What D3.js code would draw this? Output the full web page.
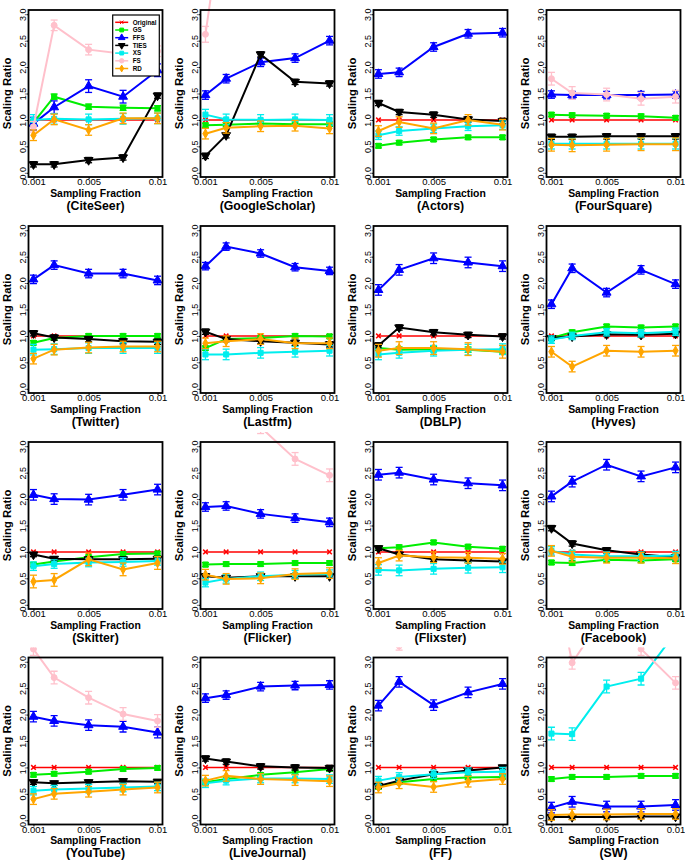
<!DOCTYPE html>
<html>
<head>
<meta charset="utf-8">
<script src="https://cdn.jsdelivr.net/npm/d3@7"></script>
<style>
  body { margin: 0; background: #fff; }
  svg { display: block; font-family: "Liberation Sans", Arial, sans-serif; }
</style>
</head>
<body>
<div id="chart"></div>
<script>
// data
var datasets = ["CiteSeer", "GoogleScholar", "Actors", "FourSquare",
                "Twitter", "Lastfm", "DBLP", "Hyves",
                "Skitter", "Flicker", "Flixster", "Facebook",
                "YouTube", "LiveJournal", "FF", "SW"]
var fractions = [0.001, 0.0025, 0.005, 0.0075, 0.01]
var xTickValues = [0.001, 0.005, 0.01]
var xTickLabels = ["0.001", "0.005", "0.01"]
var yTickValues = [0, 0.5, 1, 1.5, 2, 2.5, 3]
var methods = ["Original", "GS", "FFS", "TIES", "XS", "FS", "RD"]

var original = datasets.map(d => [1, 1, 1, 1, 1])
var gs = [
  [0.95, 1.44, 1.25, 1.23, 1.22], [0.90, 0.91, 0.93, 0.92, 0.92], [0.51, 0.57, 0.63, 0.67, 0.67], [1.10, 1.09, 1.08, 1.07, 1.04],
  [0.87, 0.96, 1.00, 1.00, 1.00], [0.77, 0.94, 0.96, 1.00, 0.99], [0.77, 0.74, 0.75, 0.74, 0.70], [0.96, 1.07, 1.18, 1.16, 1.18],
  [0.76, 0.82, 0.90, 0.96, 0.97], [0.76, 0.77, 0.77, 0.79, 0.79], [1.07, 1.09, 1.18, 1.10, 1.06], [0.80, 0.79, 0.85, 0.84, 0.86],
  [0.86, 0.88, 0.92, 0.97, 0.99], [0.72, 0.78, 0.86, 0.91, 0.97], [0.63, 0.72, 0.78, 0.81, 0.82], [0.78, 0.82, 0.82, 0.84, 0.84]
]
var ffs = [
  [0.93, 1.24, 1.64, 1.44, 1.94], [1.47, 1.78, 2.09, 2.17, 2.50], [1.87, 1.90, 2.38, 2.63, 2.65], [1.48, 1.47, 1.47, 1.47, 1.48],
  [2.07, 2.34, 2.18, 2.18, 2.05], [2.32, 2.69, 2.56, 2.30, 2.23], [1.87, 2.25, 2.47, 2.39, 2.32], [1.60, 2.28, 1.82, 2.25, 1.98],
  [2.08, 2.00, 1.99, 2.08, 2.18], [1.85, 1.87, 1.72, 1.64, 1.56], [2.46, 2.50, 2.37, 2.30, 2.26], [2.05, 2.33, 2.65, 2.43, 2.60],
  [1.96, 1.88, 1.80, 1.77, 1.66], [2.31, 2.37, 2.53, 2.55, 2.56], [2.17, 2.62, 2.18, 2.42, 2.58], [0.24, 0.35, 0.26, 0.26, 0.29]
]
var ties = [
  [0.16, 0.16, 0.24, 0.29, 1.46], [0.32, 0.71, 2.24, 1.72, 1.69], [1.32, 1.15, 1.10, 1.01, 0.98], [0.68, 0.68, 0.69, 0.69, 0.69],
  [1.05, 0.97, 0.94, 0.90, 0.89], [1.08, 0.94, 0.90, 0.87, 0.84], [0.82, 1.16, 1.07, 1.02, 0.99], [0.96, 0.99, 1.03, 1.02, 1.04],
  [0.95, 0.87, 0.86, 0.86, 0.87], [0.54, 0.51, 0.54, 0.54, 0.54], [1.07, 0.95, 0.86, 0.84, 0.82], [1.45, 1.16, 1.03, 0.95, 0.90],
  [0.72, 0.70, 0.72, 0.74, 0.73], [1.17, 1.11, 1.02, 1.00, 0.99], [0.65, 0.75, 0.87, 0.94, 1.00], [0.06, 0.06, 0.06, 0.07, 0.07]
]
var xs = [
  [1.00, 1.02, 1.01, 1.02, 1.03], [1.10, 1.01, 1.00, 1.01, 1.00], [0.71, 0.79, 0.84, 0.88, 0.90], [0.55, 0.55, 0.55, 0.55, 0.55],
  [0.74, 0.75, 0.77, 0.77, 0.77], [0.65, 0.65, 0.68, 0.70, 0.72], [0.65, 0.68, 0.72, 0.74, 0.75], [0.93, 1.00, 1.07, 1.05, 1.08],
  [0.73, 0.77, 0.80, 0.81, 0.83], [0.42, 0.49, 0.54, 0.57, 0.58], [0.66, 0.65, 0.68, 0.70, 0.71], [1.02, 0.95, 0.92, 0.92, 0.93],
  [0.56, 0.58, 0.60, 0.62, 0.64], [0.70, 0.75, 0.79, 0.79, 0.78], [0.75, 0.82, 0.87, 0.91, 0.92], [1.64, 1.63, 2.53, 2.68, 3.55]
]
var fs = [
  [0.87, 2.79, 2.33, 2.25, 2.30], [2.62, 5.36, 5.60, 5.80, 6.00], [4.60, 4.50, 4.40, 4.40, 4.30], [1.78, 1.51, 1.48, 1.40, 1.44],
  [4.50, 4.40, 4.30, 4.30, 4.20], [4.70, 4.50, 4.40, 4.30, 4.30], [4.40, 4.30, 4.20, 4.20, 4.10], [4.60, 4.40, 4.30, 4.30, 4.20],
  [4.80, 4.60, 4.40, 4.30, 4.20], [4.60, 4.20, 3.36, 2.76, 2.45], [4.50, 4.40, 4.30, 4.20, 4.20], [4.90, 4.60, 4.40, 4.30, 4.20],
  [3.24, 2.70, 2.32, 2.01, 1.88], [4.60, 4.40, 4.20, 4.10, 4.00], [4.50, 3.30, 4.50, 4.60, 4.80], [4.95, 2.98, 3.95, 3.24, 2.60]
]
var rd = [
  [0.71, 1.01, 0.81, 1.03, 1.03], [0.74, 0.85, 0.88, 0.89, 0.84], [0.79, 0.96, 0.84, 1.00, 0.91], [0.53, 0.52, 0.53, 0.54, 0.54],
  [0.57, 0.74, 0.78, 0.80, 0.80], [0.86, 0.90, 0.94, 0.86, 0.86], [0.72, 0.77, 0.77, 0.75, 0.70], [0.70, 0.42, 0.72, 0.70, 0.72],
  [0.44, 0.47, 0.86, 0.67, 0.79], [0.57, 0.49, 0.50, 0.58, 0.60], [0.79, 0.93, 0.90, 0.89, 0.87], [1.02, 0.91, 0.89, 0.89, 0.88],
  [0.40, 0.50, 0.54, 0.58, 0.62], [0.75, 0.84, 0.78, 0.76, 0.74], [0.62, 0.70, 0.63, 0.73, 0.78], [0.10, 0.11, 0.11, 0.12, 0.12]
]

// error bar half widths, one per dataset
var originalErr = datasets.map(d => 0)
var gsErr = [0.05, 0.04, 0.04, 0.04, 0.04, 0.04, 0.05, 0.04, 0.04, 0.04, 0.04, 0.04, 0.04, 0.04, 0.04, 0.04]
var ffsErr = [0.12, 0.08, 0.08, 0.07, 0.08, 0.07, 0.1, 0.08, 0.1, 0.08, 0.1, 0.1, 0.1, 0.08, 0.1, 0.1]
var tiesErr = [0.05, 0.05, 0.05, 0.05, 0.05, 0.05, 0.05, 0.04, 0.04, 0.04, 0.04, 0.05, 0.04, 0.05, 0.04, 0.04]
var xsErr = [0.1, 0.1, 0.08, 0.1, 0.1, 0.1, 0.1, 0.07, 0.08, 0.08, 0.1, 0.08, 0.08, 0.08, 0.08, 0.12]
var fsErr = [0.1, 0.15, 0.12, 0.12, 0.12, 0.12, 0.12, 0.12, 0.12, 0.12, 0.12, 0.12, 0.12, 0.12, 0.08, 0.12]
var rdErr = [0.1, 0.1, 0.1, 0.12, 0.1, 0.1, 0.12, 0.1, 0.12, 0.1, 0.1, 0.1, 0.1, 0.1, 0.1, 0.1]

var seriesValues = [original, gs, ffs, ties, xs, fs, rd]
var seriesErrors = [originalErr, gsErr, ffsErr, tiesErr, xsErr, fsErr, rdErr]

var colors = ["#ff0000", "#00ee00", "#0000ff", "#000000", "#00eeee", "#ffc0cb", "#ffa500"]
var timesSymbol = {
  draw: function(ctx, size) {
    var r = Math.sqrt(size) / 2.4
    ctx.moveTo(-r, -r); ctx.lineTo(r, r)
    ctx.moveTo(r, -r); ctx.lineTo(-r, r)
  }
}
var shapes = [timesSymbol, d3.symbolSquare, d3.symbolTriangle, d3.symbolTriangle, d3.symbolSquare, d3.symbolCircle, d3.symbolDiamond]
var shapeSizes = [30, 26, 34, 34, 26, 28, 24]

// layout
var width = 685, height = 861
var colX = [0, 172, 345, 518]
var rowY = [0, 216, 432, 647.5]
var cellW = 172, cellH = 216
var box = { left: 28.5, top: 10, width: 134, height: 167 }

var svg = d3.select("#chart")
  .append("svg")
  .attr("width", width)
  .attr("height", height)

var xScale = d3.scaleLinear()
  .domain([0.00064, 0.01036])
  .range([box.left, box.left + box.width])
var yScale = d3.scaleLinear()
  .domain([-0.08, 3.08])
  .range([box.top + box.height, box.top])

var defs = svg.append("defs")

datasets.forEach(function(name, p) {
  var g = svg.append("g")
    .attr("transform", "translate(" + colX[p % 4] + "," + rowY[Math.floor(p / 4)] + ")")

  defs.append("clipPath").attr("id", "clip" + p)
    .append("rect").attr("x", 0).attr("y", 0).attr("width", cellW).attr("height", cellH)

  // axes
  var xAxis = d3.axisBottom(xScale)
    .tickValues(xTickValues)
    .tickFormat((d, i) => xTickLabels[i])
    .tickSize(2)
  var gx = g.append("g")
    .attr("transform", "translate(0," + (box.top + box.height) + ")")
    .call(xAxis)
  gx.select(".domain").remove()
  gx.selectAll("text").attr("y", 1.5).attr("font-size", "9.5px").attr("fill", "#000")
    .attr("font-family", "Liberation Sans, Arial, sans-serif")

  var yAxis = d3.axisLeft(yScale)
    .tickValues(yTickValues)
    .tickFormat(d3.format(".1f"))
    .tickSize(2)
  var gy = g.append("g")
    .attr("transform", "translate(" + box.left + ",0)")
    .call(yAxis)
  gy.select(".domain").remove()
  gy.selectAll("text")
    .attr("transform", "rotate(-90)")
    .attr("x", 0).attr("y", -3).attr("dy", 0)
    .attr("text-anchor", "middle")
    .attr("font-size", "9px").attr("fill", "#000")
    .attr("font-family", "Liberation Sans, Arial, sans-serif")

  g.append("text")
    .attr("transform", "translate(11," + (box.top + box.height / 2) + ") rotate(-90)")
    .attr("text-anchor", "middle")
    .attr("font-size", "11.3px").attr("font-weight", "bold")
    .text("Scaling Ratio")
  g.append("text")
    .attr("x", box.left + box.width / 2).attr("y", 196.5)
    .attr("text-anchor", "middle")
    .attr("font-size", "10.4px").attr("font-weight", "bold")
    .text("Sampling Fraction")
  g.append("text")
    .attr("x", box.left + box.width / 2).attr("y", 209.5)
    .attr("text-anchor", "middle")
    .attr("font-size", "12.3px").attr("font-weight", "bold")
    .text("(" + name + ")")

  // series
  var plot = g.append("g").attr("clip-path", "url(#clip" + p + ")")
  var line = d3.line()
    .x((d, i) => xScale(fractions[i]))
    .y(d => yScale(d))

  seriesValues.forEach(function(series, s) {
    var vals = series[p]
    var err = seriesErrors[s][p]
    var sg = plot.append("g")
    sg.append("path")
      .datum(vals)
      .attr("d", line)
      .attr("fill", "none")
      .attr("stroke", colors[s])
      .attr("stroke-width", s === 0 ? 1.5 : 2)

    if (err > 0) {
      var bars = sg.selectAll(".err")
        .data(vals)
        .enter()
      bars.append("line")
        .attr("x1", (d, i) => xScale(fractions[i]))
        .attr("x2", (d, i) => xScale(fractions[i]))
        .attr("y1", d => yScale(d - err))
        .attr("y2", d => yScale(d + err))
        .attr("stroke", colors[s]).attr("stroke-width", 1.3)
      ;[-1, 1].forEach(function(sign) {
        bars.append("line")
          .attr("x1", (d, i) => xScale(fractions[i]) - 3.5)
          .attr("x2", (d, i) => xScale(fractions[i]) + 3.5)
          .attr("y1", d => yScale(d + sign * err))
          .attr("y2", d => yScale(d + sign * err))
          .attr("stroke", colors[s]).attr("stroke-width", 1.3)
      })
    }

    sg.selectAll(".pt")
      .data(vals)
      .enter()
      .append("path")
      .attr("d", d3.symbol().type(shapes[s]).size(shapeSizes[s]))
      .attr("transform", (d, i) => "translate(" + xScale(fractions[i]) + "," + yScale(d) + ")" + (s === 3 ? " rotate(180)" : ""))
      .attr("fill", s === 0 ? "none" : colors[s])
      .attr("stroke", colors[s])
      .attr("stroke-width", s === 0 ? 1.5 : 1)
  })

  // frame
  g.append("rect")
    .attr("x", box.left).attr("y", box.top)
    .attr("width", box.width).attr("height", box.height)
    .attr("fill", "none").attr("stroke", "#000").attr("stroke-width", 1.8)

  // legend only in the first panel
  if (p === 0) {
    var lg = g.append("g").attr("transform", "translate(112.7,15)")
    lg.append("rect")
      .attr("width", 46.6).attr("height", 61)
      .attr("fill", "#fff").attr("stroke", "#000").attr("stroke-width", 1.2)
    methods.forEach(function(m, s) {
      var yy = 7.3 + s * 7.7
      lg.append("line")
        .attr("x1", 2.5).attr("x2", 15.5).attr("y1", yy).attr("y2", yy)
        .attr("stroke", colors[s]).attr("stroke-width", 1.5)
      lg.append("path")
        .attr("d", d3.symbol().type(shapes[s]).size(shapeSizes[s] * 0.55))
        .attr("transform", "translate(9," + yy + ")" + (s === 3 ? " rotate(180)" : ""))
        .attr("fill", s === 0 ? "none" : colors[s])
        .attr("stroke", colors[s]).attr("stroke-width", 1)
      lg.append("text")
        .attr("x", 20).attr("y", yy + 2.2)
        .attr("font-size", "6.3px").attr("font-weight", "bold")
        .text(m)
    })
  }
})
</script>
</body>
</html>
